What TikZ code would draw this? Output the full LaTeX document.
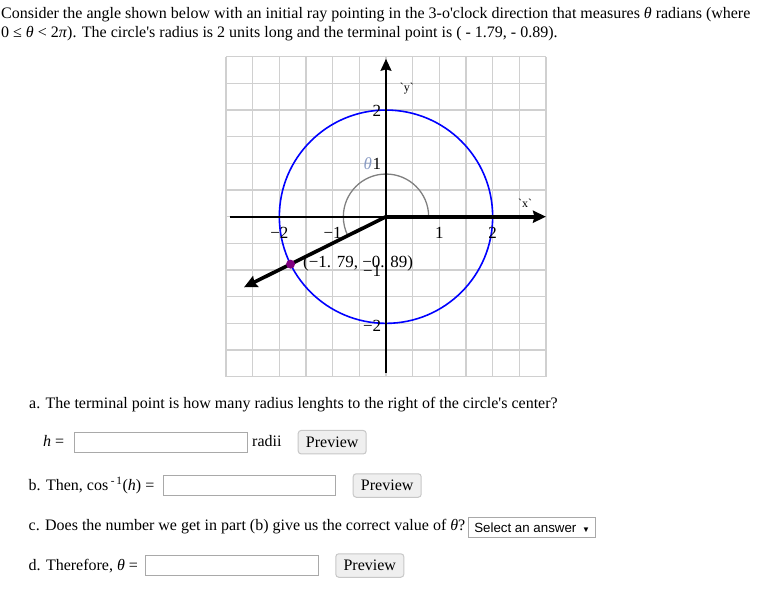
\documentclass[tikz,border=0pt]{standalone}
\usepackage{fontspec}
\setmainfont{Liberation Serif}
\newfontfamily\uiSans{Liberation Sans}
\usetikzlibrary{positioning, arrows.meta}

\definecolor{gridGray}{HTML}{D0D0D0}
\definecolor{pointPurple}{HTML}{800080}
\definecolor{thetaBlue}{HTML}{8A9CC4}
\definecolor{boxGray}{HTML}{A9A9A9}
\definecolor{buttonGray}{HTML}{EFEFEF}
\newcommand{\apos}{\textquotesingle}

\tikzstyle{pageText} = [anchor=base west, inner sep=0pt, text=black,
	font=\fontsize{16}{19}\selectfont]
\tikzstyle{inputBox} = [shape=rectangle, draw=boxGray, line width=1pt, fill=white,
	anchor=north west, inner sep=0pt, minimum height=20pt]
\tikzstyle{previewButton} = [shape=rectangle, draw=black!22, fill=buttonGray, line width=1pt,
	rounded corners=3pt, inner sep=0pt, minimum width=68pt, minimum height=23.5pt,
	font=\fontsize{16}{19}\selectfont]
\tikzstyle{selectBox} = [shape=rectangle, draw=boxGray, line width=1pt, fill=white,
	anchor=north west, inner sep=0pt, minimum width=126.7pt, minimum height=19.4pt,
	font=\uiSans\fontsize{13.3}{15}\selectfont]
\tikzstyle{tickLabel} = [inner sep=0pt, text=black, font=\fontsize{17}{19}\selectfont]
\tikzstyle{axisLabel} = [inner sep=0pt, text=black, font=\fontsize{12}{14}\selectfont]
\tikzstyle{gridLine} = [draw=gridGray, line width=1.4pt]
\tikzstyle{axisArrow} = [line width=1.8pt, ->, >={Stealth[length=12pt, width=11pt, inset=1.5pt]}, draw=black]
\tikzstyle{rayArrow} = [line width=3.6pt, ->, >={Stealth[length=13pt, width=12pt, inset=1.5pt]}, draw=black]

\begin{document}
\begin{tikzpicture}[x=1pt, y=-1pt]
	\useasboundingbox (0,0) rectangle (763,599);
	\node (IntroA) at (1,19) [pageText] {Consider the angle shown below with an initial ray pointing in the 3-o\apos{}clock direction that measures \textit{θ} radians (where};
	\node (IntroB) at (1,38) [pageText] {0 ≤ \textit{θ} < 2\textit{π}). The circle\apos{}s radius is 2 units long and the terminal point is ( - 1.79,  - 0.89).};

	\begin{scope}[shift={(386,216.7)}, x=53.33pt, y=53.33pt]
		\draw[gridLine] (-3,-3) grid[step=0.5] (3,3);
		\coordinate (Origin) at (0,0);
		\coordinate (XLeft) at (-2.93,0);
		\coordinate (XRight) at (3,0);
		\coordinate (YBottom) at (0,-2.93);
		\coordinate (YTop) at (0,2.96);
		\coordinate (RayEnd) at (-2.663,-1.324);

		\draw[draw=blue, line width=1.6pt] (Origin) circle[radius=2];
		\draw[draw=gray, line width=1.3pt] (0.8,0) arc[start angle=0, end angle=206.44, radius=0.8];

		\draw[line width=1.8pt] (XLeft) -- (Origin);
		\draw[axisArrow] (YBottom) -- (YTop);
		\draw[rayArrow] (Origin) -- (XRight);
		\draw[rayArrow] (Origin) -- (RayEnd);
		\node (TermPoint) at (-1.79,-0.89) [circle, fill=pointPurple, inner sep=0pt, minimum size=9pt] {};

		\node (XTickA) at (-2,-0.31) [tickLabel] {−2};
		\node (XTickB) at (-1,-0.31) [tickLabel] {−1};
		\node (XTickC) at (1,-0.31) [tickLabel] {1};
		\node (XTickD) at (2,-0.31) [tickLabel] {2};
		\node (YTickA) at (-0.17,1.98) [tickLabel] {2};
		\node (YTickB) at (-0.17,0.99) [tickLabel] {1};
		\node (YTickC) at (-0.26,-1.02) [tickLabel] {−1};
		\node (YTickD) at (-0.26,-2.05) [tickLabel] {−2};
		\node (ThetaMark) at (-0.34,0.99) [tickLabel, text=thetaBlue, font=\fontsize{17}{19}\selectfont\itshape] {θ};
		\node (PointLabel) at (-1.556,-0.87) [tickLabel, anchor=west] {(−1. 79, −0. 89)};
		\node (YName) at (0.39,2.41) [axisLabel] {\textasciigrave y\textasciigrave};
		\node (XName) at (2.61,0.26) [axisLabel] {\textasciigrave x\textasciigrave};
	\end{scope}

	\node (QuestionA) at (29,408) [pageText] {a. The terminal point is how many radius lenghts to the right of the circle\apos{}s center?};
	\node (HLabel) at (43,446.5) [pageText] {\textit{h} =};
	\node (HBox) at (74,431.7) [inputBox, minimum width=172.7pt] {};
	\node (Radii) at (252,446.5) [pageText] {radii};
	\node (PreviewA) [previewButton, right=50pt of HBox] {Preview};

	\node (QuestionB) at (28.5,490.5) [pageText] {b. Then, cos\,\textsuperscript{-\,1}(\textit{h}) =};
	\node (BBox) at (162.7,475) [inputBox, minimum width=172.3pt] {};
	\node (PreviewB) [previewButton, right=16.7pt of BBox] {Preview};

	\node (QuestionC) at (28.5,530) [pageText] {c. Does the number we get in part (b) give us the correct value of \textit{θ}?};
	\node (AnswerSelect) at (468.3,517.3) [selectBox] {Select an answer \hspace{2pt}{\fontsize{8}{9}\selectfont ▼}};

	\node (QuestionD) at (28.5,570) [pageText] {d. Therefore, \textit{θ} =};
	\node (DBox) at (145,555) [inputBox, minimum width=172.7pt] {};
	\node (PreviewD) [previewButton, right=16.6pt of DBox] {Preview};
\end{tikzpicture}
\end{document}
